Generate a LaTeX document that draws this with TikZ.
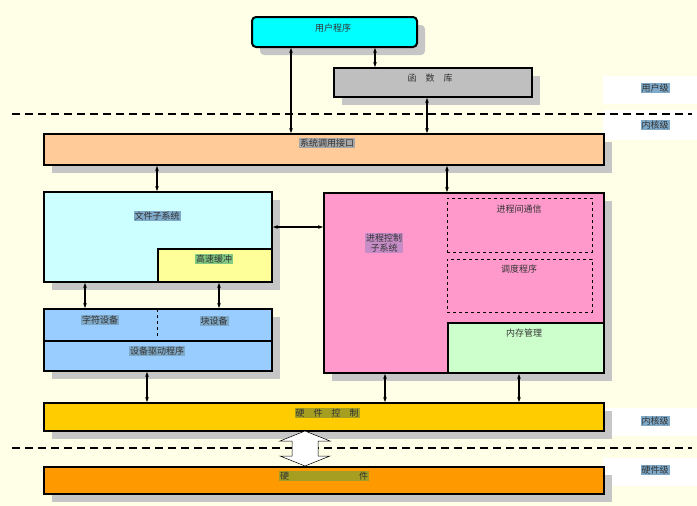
\documentclass[tikz,border=0pt]{standalone}
\usepackage{fontspec}
\setmainfont{Noto Sans CJK SC}
\usetikzlibrary{shadows,arrows.meta}
\definecolor{bg}{HTML}{FFFFE8}
\definecolor{hl}{HTML}{7FA9C8}
\begin{document}
\begin{tikzpicture}[x=1pt,y=-1pt,
  box/.style={draw=black,line width=2pt,anchor=north west,inner sep=0pt,
    drop shadow={shadow xshift=8pt,shadow yshift=-8pt,fill=gray!45,opacity=1}},
  plain/.style={draw=black,line width=2pt,anchor=north west,inner sep=0pt},
  dbox/.style={draw=black,dashed,line width=0.6pt,anchor=north west,inner sep=0pt},
  lbl/.style={font=\fontsize{9}{10}\selectfont,inner sep=1pt,text=black!80},
  arr/.style={{Stealth[length=5pt]}-{Stealth[length=5pt]},line width=1.2pt}]
\fill[bg] (0,0) rectangle (697,506);
\useasboundingbox (0,0) rectangle (697,506);
% level labels
\fill[white] (603,76) rectangle (697,104);
\fill[white] (603,110) rectangle (697,140);
\fill[white] (603,408) rectangle (697,436);
\fill[white] (603,458) rectangle (697,486);
\node[lbl,fill=hl] (lu) at (655,88) {用户级};
\node[lbl,fill=hl] (lk) at (655,125) {内核级};
\node[lbl,fill=hl] (lk2) at (655,421) {内核级};
\node[lbl,fill=hl] (lh) at (655,470) {硬件级};
\draw[dashed,line width=1.5pt,dash pattern=on 8pt off 5pt] (12,114) -- (692,114);
\draw[dashed,line width=1.5pt,dash pattern=on 8pt off 5pt] (12,448) -- (692,448);
% boxes
\node[box,fill={rgb,255:red,0;green,255;blue,255},rounded corners=4pt,minimum width=165pt,minimum height=30pt] (up) at (251,16) {};
\node[box,fill=gray!50,minimum width=198pt,minimum height=29pt] (lib) at (333,67) {};
\node[box,fill={rgb,255:red,255;green,204;blue,153},minimum width=560pt,minimum height=31pt] (sys) at (43,133) {};
\node[box,fill={rgb,255:red,204;green,255;blue,255},minimum width=228pt,minimum height=90pt] (fs) at (43,191) {};
\node[plain,fill={rgb,255:red,255;green,255;blue,153},minimum width=114pt,minimum height=33pt] (cache) at (157,248) {};
\node[box,fill={rgb,255:red,153;green,204;blue,255},minimum width=228pt,minimum height=62pt] (dev) at (43,308) {};
\node[plain,fill={rgb,255:red,153;green,204;blue,255},minimum width=228pt,minimum height=30pt] (drv) at (43,340) {};
\draw[dashed,line width=0.6pt] (157,309) -- (157,339);
\node[box,fill={rgb,255:red,255;green,153;blue,204},minimum width=280pt,minimum height=180pt] (pc) at (323,192) {};
\node[dbox,minimum width=145pt,minimum height=54pt] (ipc) at (447,198) {};
\node[dbox,minimum width=145pt,minimum height=53pt] (sch) at (447,259) {};
\node[plain,fill={rgb,255:red,204;green,255;blue,204},minimum width=156pt,minimum height=50pt] (mem) at (447,322) {};
\node[box,fill={rgb,255:red,255;green,204;blue,0},minimum width=560pt,minimum height=28pt] (hwc) at (43,402) {};
\node[box,fill={rgb,255:red,255;green,153;blue,0},minimum width=560pt,minimum height=27pt] (hw) at (43,466) {};
% labels
\node[lbl] (t1) at (333,28) {用户程序};
\node[lbl] (t2) at (430,78) {函\quad 数\quad 库};
\node[lbl,fill=gray!70] (t3) at (327,143) {系统调用接口};
\node[lbl,fill=hl] (t4) at (157,216) {文件子系统};
\node[lbl,fill=green!40!gray!70] (t5) at (214,259) {高速缓冲};
\node[lbl,fill=hl] (t6) at (100,320) {字符设备};
\node[lbl,fill=hl] (t7) at (214,321) {块设备};
\node[lbl,fill=hl] (t8) at (157,351) {设备驱动程序};
\node[lbl,fill=violet!45,align=center] (t9) at (384,243) {进程控制\\子系统};
\node[lbl] (t10) at (519,209) {进程间通信};
\node[lbl] (t11) at (519,269) {调度程序};
\node[lbl] (t12) at (524,333) {内存管理};
\node[lbl,fill=olive!80] (t13) at (327,413) {硬\quad 件\quad 控\quad 制};
\node[lbl,fill=olive!80] (t14) at (324,476) {硬\hspace{70pt}件};
% connectors
\foreach \n/\x in {a/291,b/375,c/427,d/157,e/447,f/85,g/219,h/147,i/385,j/519}
  \coordinate (x\n) at (\x,0);
\draw[arr] (up.south -| xa) -- (sys.north -| xa);
\draw[arr] (up.south -| xb) -- (lib.north -| xb);
\draw[arr] (lib.south -| xc) -- (sys.north -| xc);
\draw[arr] (sys.south -| xd) -- (fs.north -| xd);
\draw[arr] (sys.south -| xe) -- (pc.north -| xe);
\coordinate (ymid) at (0,227);
\draw[arr] (fs.east |- ymid) -- (pc.west |- ymid);
\draw[arr] (fs.south -| xf) -- (dev.north -| xf);
\draw[arr] (cache.south -| xg) -- (dev.north -| xg);
\draw[arr] (drv.south -| xh) -- (hwc.north -| xh);
\draw[arr] (pc.south -| xi) -- (hwc.north -| xi);
\draw[arr] (pc.south -| xj) -- (hwc.north -| xj);
% big double arrow
\draw[fill=white,line width=0.5pt] (305,431) -- (330,441) -- (318,441) -- (318,456) -- (330,456) -- (305,466) -- (280,456) -- (292,456) -- (292,441) -- (280,441) -- cycle;
\end{tikzpicture}
\end{document}
